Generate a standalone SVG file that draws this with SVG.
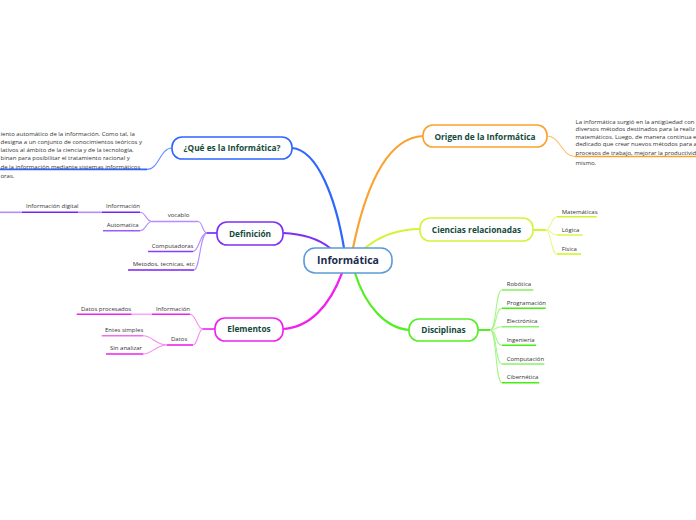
<svg xmlns="http://www.w3.org/2000/svg" width="696" height="520" viewBox="0 0 696 520">
<style>
.bg{fill:#ffffff}
.node{fill:#ffffff;stroke-width:1.6}
.main{font-family:"Open Sans","Noto Sans","DejaVu Sans",sans-serif;font-weight:bold;font-size:8.3px;fill:#134a3c;text-anchor:middle}
.center{font-family:"Open Sans","Noto Sans","DejaVu Sans",sans-serif;font-weight:bold;font-size:10.5px;fill:#1b2a50;text-anchor:middle}
.sm{font-family:"Open Sans","Noto Sans","DejaVu Sans",sans-serif;font-size:6px;fill:#333333}
.br{fill:none;stroke-linecap:round}
.sub{fill:none;stroke-width:1.1}
.ul{fill:none;stroke-width:1.6}
</style>
<rect class="bg" x="0" y="0" width="696" height="520"/>

<g id="connectors">
  <!-- main branches -->
  <path class="br" d="M344,248 C336,200 318,150 292,148" stroke="#2f66ff" stroke-width="2.2"/>
  <path class="br" d="M353,248 C365,190 385,138 423,136" stroke="#f9a22f" stroke-width="2.2"/>
  <path class="br" d="M330,248 C320,240 305,234 283,233" stroke="#7f2ff5" stroke-width="2.2"/>
  <path class="br" d="M365,248 C380,236 400,229 420,229" stroke="#d2f53a" stroke-width="2.2"/>
  <path class="br" d="M342,273 C330,305 310,328 282,329" stroke="#f020f0" stroke-width="2.2"/>
  <path class="br" d="M355,273 C365,305 385,328 409,330" stroke="#55ee22" stroke-width="2.2"/>

  <!-- Qué es -->
  <path class="sub" d="M172,148 C160,148 159,169.4 147,169.4" stroke="#5f8cff"/>
  <path class="ul" d="M0,169.4 H147" stroke="#2f66ff"/>

  <!-- Origen -->
  <path class="sub" d="M547,136 C560,136 562,156.5 575,156.5" stroke="#fbbf6a"/>
  <path class="ul" d="M575,156.5 H696" stroke="#f9a22f"/>

  <!-- Definición -->
  <path d="M205,233 H217" stroke="#8e4bff" stroke-width="2" fill="none"/>
  <path class="sub" d="M198,221.5 C203,221.5 202,233 207,233" stroke="#b48cff"/>
  <path class="sub" d="M193,251.5 C199,251.5 200,233 207,233" stroke="#b48cff"/>
  <path class="sub" d="M194,270 C200,270 200,233 207,233" stroke="#b48cff"/>
  <path class="ul" d="M152,221.5 H198" stroke="#b48cff"/>
  <path class="ul" d="M148,251.5 H193" stroke="#8a3cff"/>
  <path class="ul" d="M128,270 H194" stroke="#7a22f5"/>
  <path class="sub" d="M140,212.3 C146,212.3 146,221.5 152,221.5" stroke="#b48cff"/>
  <path class="sub" d="M140,230.7 C146,230.7 146,221.5 152,221.5" stroke="#b48cff"/>
  <path class="ul" d="M102,212.3 H140" stroke="#7a22f5"/>
  <path class="ul" d="M103,230.7 H140" stroke="#9a5cff"/>
  <path class="ul" d="M0,212.3 H22" stroke="#b48cff"/>
  <path class="ul" d="M22,212.3 H78" stroke="#7a22f5"/>
  <path class="ul" d="M78,212.3 H102" stroke="#b48cff"/>

  <!-- Elementos -->
  <path d="M202,329 H215" stroke="#f050f0" stroke-width="2" fill="none"/>
  <path class="sub" d="M190,314.3 C196,314.3 197,329 203,329" stroke="#f58cf5"/>
  <path class="sub" d="M193,345 C198,345 198,329 203,329" stroke="#f58cf5"/>
  <path class="ul" d="M151.7,314.3 H190" stroke="#ee22ee"/>
  <path class="ul" d="M76.7,314.3 H131.7" stroke="#ee22ee"/>
  <path class="ul" d="M131.7,314.3 H151.7" stroke="#f7a8f7"/>
  <path class="ul" d="M166.7,345 H193" stroke="#ee22ee"/>
  <path class="sub" d="M143.3,335.7 C152,335.7 156,345 166.7,345" stroke="#f58cf5"/>
  <path class="sub" d="M143.3,354 C152,354 156,345 166.7,345" stroke="#f58cf5"/>
  <path class="ul" d="M101.7,335.7 H143.3" stroke="#f26af2"/>
  <path class="ul" d="M106,354 H143.3" stroke="#ee22ee"/>

  <!-- Ciencias -->
  <path d="M533,230 H546" stroke="#d2f53a" stroke-width="2" fill="none"/>
  <path class="sub" d="M546,230 C551,230 551,216.7 557,216.7" stroke="#e6fa8a"/>
  <path class="sub" d="M546,230 C551,230 551,235 557,235" stroke="#e6fa8a"/>
  <path class="sub" d="M546,230 C551,230 551,254 557,254" stroke="#e6fa8a"/>
  <path class="ul" d="M557,216.7 H596.7" stroke="#cdf52a"/>
  <path class="ul" d="M557,235 H582.7" stroke="#d9f85a"/>
  <path class="ul" d="M557,254 H581" stroke="#cdf52a"/>

  <!-- Disciplinas -->
  <path d="M478,330 H490" stroke="#55ee22" stroke-width="2" fill="none"/>
  <path class="sub" d="M490,330 C497,330 495,290 502,290" stroke="#a6f78a"/>
  <path class="sub" d="M490,330 C497,330 495,308.3 502,308.3" stroke="#a6f78a"/>
  <path class="sub" d="M490,330 C497,330 495,326.7 502,326.7" stroke="#a6f78a"/>
  <path class="sub" d="M490,330 C497,330 495,345.3 502,345.3" stroke="#a6f78a"/>
  <path class="sub" d="M490,330 C497,330 495,364 502,364" stroke="#a6f78a"/>
  <path class="sub" d="M490,330 C497,330 495,382.7 502,382.7" stroke="#a6f78a"/>
  <path class="ul" d="M502,290 H533.3" stroke="#88f266"/>
  <path class="ul" d="M502,308.3 H545.7" stroke="#44ee11"/>
  <path class="ul" d="M502,326.7 H539" stroke="#88f266"/>
  <path class="ul" d="M502,345.3 H536" stroke="#44ee11"/>
  <path class="ul" d="M502,364 H544.3" stroke="#88f266"/>
  <path class="ul" d="M502,382.7 H539.3" stroke="#44ee11"/>
</g>

<g id="n-informatica">
  <rect class="node" x="304" y="248" width="88" height="25" rx="11" fill="#fbfdff" stroke="#5b9bd5"/>
  <text class="center" x="348" y="264.3">Informática</text>
</g>

<g id="n-que-es">
  <rect class="node" x="172" y="137" width="120" height="22" rx="10" stroke="#2f66ff"/>
  <text class="main" x="232" y="151">¿Qué es la Informática?</text>
</g>
<g id="n-que-es-texto">
  <text class="sm" x="0.5" y="135.5">iento automático de la información. Como tal, la</text>
  <text class="sm" x="0.5" y="143.9">designa a un conjunto de conocimientos teóricos y</text>
  <text class="sm" x="0.5" y="151.5">lativos al ámbito de la ciencia y de la tecnología,</text>
  <text class="sm" x="0.5" y="160.3">binan para posibilitar el tratamiento racional y</text>
  <text class="sm" x="0.5" y="168.6">de la información mediante sistemas informáticos</text>
  <text class="sm" x="0.5" y="177.8">oras.</text>
</g>

<g id="n-origen">
  <rect class="node" x="423" y="125" width="124" height="22" rx="10" stroke="#f9a22f"/>
  <text class="main" x="485" y="139.5">Origen de la Informática</text>
</g>
<g id="n-origen-texto">
  <text class="sm" x="575.5" y="123.5">La informática surgió en la antigüedad con</text>
  <text class="sm" x="575.5" y="131">diversos métodos destinados para la realiz</text>
  <text class="sm" x="575.5" y="138.6">matemáticos. Luego, de manera continua e</text>
  <text class="sm" x="575.5" y="146.2">dedicado que crear nuevos métodos para a</text>
  <text class="sm" x="575.5" y="154.7">procesos de trabajo, mejorar la productivid</text>
  <text class="sm" x="575.5" y="164.6">mismo.</text>
</g>

<g id="n-definicion">
  <rect class="node" x="217" y="222" width="66" height="23" rx="10" stroke="#7f2ff5"/>
  <text class="main" x="250" y="236.8">Definición</text>
</g>
<g id="n-vocablo"><text class="sm" x="167.7" y="217.3">vocablo</text></g>
<g id="n-informacion-def"><text class="sm" x="106" y="208.3">Información</text></g>
<g id="n-informacion-digital"><text class="sm" x="26" y="208.3">Información digital</text></g>
<g id="n-automatica"><text class="sm" x="106.7" y="226.5">Automatica</text></g>
<g id="n-computadoras"><text class="sm" x="151.7" y="248.3">Computadoras</text></g>
<g id="n-metodos"><text class="sm" x="132.7" y="265.6">Metodos, tecnicas, etc</text></g>

<g id="n-elementos">
  <rect class="node" x="215" y="318" width="68" height="23" rx="10" stroke="#ee22ee"/>
  <text class="main" x="249" y="332.3">Elementos</text>
</g>
<g id="n-informacion-el"><text class="sm" x="156" y="310.5">Información</text></g>
<g id="n-datos-procesados"><text class="sm" x="81" y="310.5">Datos procesados</text></g>
<g id="n-datos"><text class="sm" x="171" y="341">Datos</text></g>
<g id="n-entes-simples"><text class="sm" x="105" y="331.5">Entes simples</text></g>
<g id="n-sin-analizar"><text class="sm" x="110" y="350">Sin analizar</text></g>

<g id="n-ciencias">
  <rect class="node" x="420" y="218" width="113" height="23" rx="10" stroke="#d2f53a"/>
  <text class="main" x="476.5" y="233">Ciencias relacionadas</text>
</g>
<g id="n-matematicas"><text class="sm" x="561.7" y="214">Matemáticas</text></g>
<g id="n-logica"><text class="sm" x="561.7" y="232.3">Lógica</text></g>
<g id="n-fisica"><text class="sm" x="561.7" y="251.3">Física</text></g>

<g id="n-disciplinas">
  <rect class="node" x="409" y="319" width="69" height="22" rx="10" stroke="#55ee22"/>
  <text class="main" x="443.5" y="333.3">Disciplinas</text>
</g>
<g id="n-robotica"><text class="sm" x="506.7" y="286.3">Robótica</text></g>
<g id="n-programacion"><text class="sm" x="506.7" y="305.3">Programación</text></g>
<g id="n-electronica"><text class="sm" x="506.7" y="323.3">Electrónica</text></g>
<g id="n-ingenieria"><text class="sm" x="506.7" y="342.3">Ingeniería</text></g>
<g id="n-computacion"><text class="sm" x="506.7" y="360.6">Computación</text></g>
<g id="n-cibernetica"><text class="sm" x="506.7" y="379.3">Cibernética</text></g>
</svg>
